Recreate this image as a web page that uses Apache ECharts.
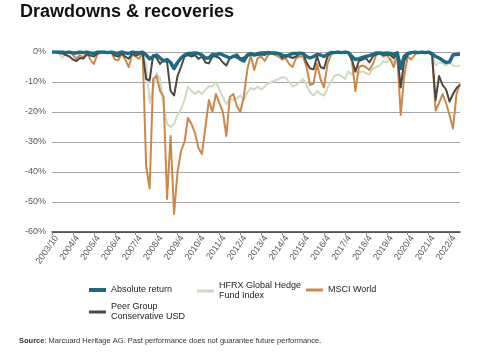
<!DOCTYPE html>
<html>
<head>
<meta charset="utf-8">
<script src="https://cdn.jsdelivr.net/npm/echarts@6/dist/echarts.min.js"></script>
<style>
html,body{margin:0;padding:0;background:#fff;}
#chart{width:480px;height:356px;}
</style>
</head>
<body>
<div id="chart"></div>
<script>
// Tick labels along the x axis (one every 6 points)
const tickLabels = ['2003/10','2004/4','2005/4','2006/4','2007/4','2008/4','2009/4','2010/4','2011/4','2012/4',
  '2013/4','2014/4','2015/4','2016/4','2017/4','2018/4','2019/4','2020/4','2021/4','2022/4'];
const pointsPerTick = 6;

// Drawdown values, in %
const absReturn = [0,0,0,0,-0.2,0,-0.3,-0.3,0,-0.2,0,-0.3,-0.5,0,0,0,-0.2,0,-0.3,-0.4,0,-0.3,-0.5,0,-0.2,-0.3,0,
  -1,-2.3,-1.5,-1,-2,-3,-2.5,-3.5,-5.5,-3.5,-2,-1,-0.5,-0.5,-0.3,-0.5,-1,-2,-2,-0.8,-1,-0.5,-1,-1.5,-2,-1.5,-1,-2.5,-3,-1,-0.5,-1,-0.5,
  -0.3,-0.3,-0.2,-0.3,-0.3,-0.5,-1,-1.5,-1,-0.5,-0.5,-0.4,-0.5,-1.5,-2,-1.5,-0.8,-1,-1.5,-0.8,-0.2,-0.2,0,-0.2,0,-0.2,
  -1.5,-2.5,-2.2,-1.8,-1.5,-1.2,-0.8,-0.3,-0.3,-0.5,-0.3,-0.5,-0.8,-0.3,-5.5,-1.5,-0.5,-0.2,0,-0.2,0,-0.2,0,-0.5,-1.5,-2,-2.8,-3.5,-3.3,-1,-0.8,-0.7];

const hfrx = [0,0,-0.5,-2,-0.5,0,-0.3,-0.5,0,-0.3,0,-0.5,-0.8,0,0,0,-0.3,0,-0.3,-0.5,0,-0.3,-0.5,0,-0.3,-0.3,-0.5,
  -4,-17,-12,-7,-9,-18,-24,-25,-24,-21,-19,-16,-11.5,-13,-14,-13,-14,-12.5,-11.5,-11.5,-10,-12.5,-15,-17.5,-15.5,-16,-15.5,-14.5,-16,-13.5,-12,-12.5,-11.5,
  -12.5,-11.5,-10.5,-10,-9.5,-9,-8.5,-8.5,-10,-11.5,-11,-10,-9,-11,-13.5,-14.5,-13,-14,-14.5,-12,-10,-8,-7.5,-8,-9,-6.5,
  -7.5,-6.5,-7,-6.5,-7,-7.5,-5.5,-5,-4.5,-3,-3.5,-2,-3.5,-1,-4,-1,-0.5,0,-0.3,0,0,-0.3,0,-0.5,-4.5,-3.5,-3.8,-4.5,-3.5,-4.5,-4.8,-4.5];

const msciWorld = [0,0,0,0,-0.3,0,-1,-2.2,-1,-1.8,-0.3,-2.5,-4,-0.8,0,0,-0.3,0,-2.5,-2.8,-0.5,-2.5,-5,-0.8,-1.5,-2.3,0,
  -38,-45.5,-9,-8,-13,-15,-49,-28,-54,-40,-33,-30,-22,-24,-27,-32,-34,-25,-16,-20,-14,-17,-20,-28,-15,-14,-18,-20,-15,-6,-1,-6,-2,
  -1.5,-3,-1,-0.5,-1,-1.5,-2.5,-2,-4,-5,-2,-1.5,-1.5,-5,-11,-10.5,-4,-9,-11.8,-4,-1,0,0,0,0,-0.3,
  -3,-13,-5,-4.5,-5,-6,-4,-1,-0.5,-1.5,-1,-2.5,-5,-1,-21,-8,-1.5,-2.5,-1,0,0,0,0,-1,-19.5,-17,-14,-17,-21,-25.5,-14,-10.5];

const peerGroup = [0,0,-0.3,-0.5,-1,-1.5,-2.5,-3,-2,-2.2,-0.8,-1.2,-1.5,-0.5,-0.2,-0.2,-0.2,-0.2,-1.2,-1.5,-0.5,-1.5,-2.2,-0.5,-1.2,-0.8,-0.3,
  -9,-9.5,-1,-2,-4,-2.5,-3.5,-13,-14.5,-8,-5,-1.5,-1,-1.5,-1,-2.3,-1.5,-3.5,-3.8,-1.5,-1.5,-2,-3.5,-4.5,-2,-1.2,-2,-2.2,-1.8,-1.5,-0.8,-1.2,-1,
  -0.8,-1,-0.3,-0.3,-0.5,-0.5,-2,-1,-1.5,-2,-1.5,-0.5,-0.5,-3.5,-5.5,-5.8,-1.5,-5,-5.5,-1.5,-0.2,-0.2,-0.2,-0.2,-0.2,-0.2,
  -2.5,-6.5,-3,-2.5,-2,-3.5,-1.5,-0.8,-0.5,-1,-0.8,-1,-2,-0.5,-11.8,-3,-1,-0.3,-0.3,-0.3,-0.3,-0.3,-0.3,-1,-16,-8,-11,-12.5,-16.5,-14,-12,-11];

const yTicks = [-60,-50,-40,-30,-20,-10,0];

const names = {
  abs: 'Absolute return',
  hfrx: 'HFRX Global Hedge Fund Index',
  msci: 'MSCI World',
  peer: 'Peer Group Conservative USD'
};
const legendText = {
  'Absolute return': 'Absolute return',
  'HFRX Global Hedge Fund Index': 'HFRX Global Hedge\nFund Index',
  'MSCI World': 'MSCI World',
  'Peer Group Conservative USD': 'Peer Group\nConservative USD'
};
const colors = {abs:'#1B6A86', hfrx:'#CCDCC0', msci:'#CD8747', peer:'#4F463E'};

const n = absReturn.length;
const categories = [];
for (let i = 0; i < n; i++) {
  categories.push(tickLabels[Math.min(tickLabels.length - 1, Math.floor(i / pointsPerTick))] + '|' + i);
}

const FONT = '"Liberation Sans", Arial, sans-serif';

function legendAt(name, left, top, h) {
  return {
    data: [name], left: left, top: top, orient: 'horizontal', padding: 0,
    icon: 'rect', itemWidth: 17, itemHeight: h,
    textStyle: {fontFamily: FONT, fontSize: 9, color: '#222', lineHeight: 10},
    formatter: nm => legendText[nm],
    selectedMode: false
  };
}

function lineSeries(name, data, color, width) {
  return {
    name: name, type: 'line', data: data, color: color,
    showSymbol: false, symbol: 'none',
    lineStyle: {width: width, color: color, join: 'round'},
    emphasis: {disabled: true}
  };
}

const chart = echarts.init(document.getElementById('chart'), null, {renderer: 'canvas'});
chart.setOption({
  animation: false,
  backgroundColor: '#fff',
  title: [
    {text: 'Drawdowns & recoveries', left: 20, top: 3, padding: 0,
     textStyle: {fontFamily: FONT, fontSize: 18, fontWeight: 'bold', color: '#111'}},
    {text: '{b|Source}: Marcuard Heritage AG. Past performance does not guarantee future performance.',
     left: 19, top: 337, padding: 0,
     textStyle: {fontFamily: FONT, fontSize: 7.5, fontWeight: 'normal', color: '#333',
       rich: {b: {fontFamily: FONT, fontSize: 7.5, fontWeight: 'bold', color: '#333'}}}}
  ],
  legend: [
    legendAt(names.abs, 89, 285, 4),
    legendAt(names.hfrx, 197, 281, 3),
    legendAt(names.msci, 306, 285, 3),
    legendAt(names.peer, 89, 302, 3)
  ],
  grid: {left: 52, right: 20, top: 52, bottom: 124, containLabel: false},
  xAxis: {
    type: 'category', boundaryGap: false, data: categories,
    axisLine: {onZero: false, lineStyle: {color: '#3a3a3a', width: 1.5}},
    axisTick: {show: true, interval: pointsPerTick - 1, length: 3, lineStyle: {color: '#808080'}},
    axisLabel: {interval: pointsPerTick - 1, rotate: 55, fontFamily: FONT, fontSize: 9, color: '#595959',
      margin: 11, padding: [0, -8, 0, 0],
      formatter: v => v.split('|')[0]},
    splitLine: {show: false}
  },
  yAxis: {
    type: 'value', min: yTicks[0], max: yTicks[yTicks.length - 1], interval: 10,
    axisLine: {show: false}, axisTick: {show: false},
    axisLabel: {formatter: '{value}%', fontFamily: FONT, fontSize: 9, color: '#595959', margin: 6},
    splitLine: {lineStyle: {color: '#A6A6A6', width: 1}}
  },
  series: [
    lineSeries(names.hfrx, hfrx, colors.hfrx, 2),
    lineSeries(names.msci, msciWorld, colors.msci, 2),
    lineSeries(names.peer, peerGroup, colors.peer, 2),
    lineSeries(names.abs, absReturn, colors.abs, 3.5)
  ]
});
</script>
</body>
</html>
